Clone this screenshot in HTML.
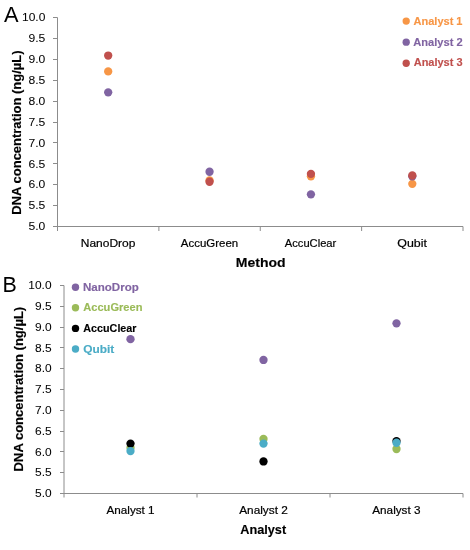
<!DOCTYPE html>
<html><head><meta charset="utf-8"><style>
html,body{margin:0;padding:0;background:#fff;width:470px;height:550px;overflow:hidden}
svg{display:block;font-family:"Liberation Sans", sans-serif;will-change:transform}
</style></head><body>
<svg width="470" height="550" viewBox="0 0 470 550">
<path d="M57.5 17.5V231.0" stroke="#8c8c8c" stroke-width="1" fill="none"/>
<path d="M53.0 17.5H57.5M53.0 38.5H57.5M53.0 59.5H57.5M53.0 80.5H57.5M53.0 101.5H57.5M53.0 122.5H57.5M53.0 142.5H57.5M53.0 163.5H57.5M53.0 184.5H57.5M53.0 205.5H57.5M53.0 226.5H57.5" stroke="#8c8c8c" stroke-width="1" fill="none"/>
<path d="M57.5 226.5H463" stroke="#8c8c8c" stroke-width="1" fill="none"/>
<path d="M158.88 226.5V231.0M260.25 226.5V231.0M361.62 226.5V231.0M463.00 226.5V231.0" stroke="#8c8c8c" stroke-width="1" fill="none"/>
<circle cx="108.19" cy="71.42" r="4.15" fill="#F79646"/>
<circle cx="209.56" cy="180.52" r="4.15" fill="#F79646"/>
<circle cx="310.94" cy="176.34" r="4.15" fill="#F79646"/>
<circle cx="412.31" cy="183.86" r="4.15" fill="#F79646"/>
<circle cx="108.19" cy="92.32" r="4.15" fill="#8064A2"/>
<circle cx="209.56" cy="171.74" r="4.15" fill="#8064A2"/>
<circle cx="310.94" cy="194.31" r="4.15" fill="#8064A2"/>
<circle cx="412.31" cy="176.34" r="4.15" fill="#8064A2"/>
<circle cx="108.19" cy="55.54" r="4.15" fill="#C0504D"/>
<circle cx="209.56" cy="181.77" r="4.15" fill="#C0504D"/>
<circle cx="310.94" cy="173.83" r="4.15" fill="#C0504D"/>
<circle cx="412.31" cy="175.50" r="4.15" fill="#C0504D"/>
<path d="M64.0 285.5V497.5" stroke="#8c8c8c" stroke-width="1" fill="none"/>
<path d="M60.0 285.5H64.0M60.0 306.5H64.0M60.0 327.5H64.0M60.0 347.5H64.0M60.0 368.5H64.0M60.0 389.5H64.0M60.0 410.5H64.0M60.0 431.5H64.0M60.0 451.5H64.0M60.0 472.5H64.0M60.0 493.5H64.0" stroke="#8c8c8c" stroke-width="1" fill="none"/>
<path d="M64.0 493.5H463.0" stroke="#8c8c8c" stroke-width="1" fill="none"/>
<path d="M197.00 493.5V497.5M330.00 493.5V497.5M463.00 493.5V497.5" stroke="#8c8c8c" stroke-width="1" fill="none"/>
<circle cx="130.50" cy="339.16" r="4.15" fill="#8064A2"/>
<circle cx="263.50" cy="359.96" r="4.15" fill="#8064A2"/>
<circle cx="396.50" cy="323.36" r="4.15" fill="#8064A2"/>
<circle cx="130.50" cy="447.74" r="4.15" fill="#9BBB59"/>
<circle cx="263.50" cy="439.00" r="4.15" fill="#9BBB59"/>
<circle cx="396.50" cy="448.99" r="4.15" fill="#9BBB59"/>
<circle cx="130.50" cy="443.58" r="4.15" fill="#000000"/>
<circle cx="263.50" cy="461.47" r="4.15" fill="#000000"/>
<circle cx="396.50" cy="441.08" r="4.15" fill="#000000"/>
<circle cx="130.50" cy="451.07" r="4.15" fill="#4BACC6"/>
<circle cx="263.50" cy="443.58" r="4.15" fill="#4BACC6"/>
<circle cx="396.50" cy="442.75" r="4.15" fill="#4BACC6"/>
<circle cx="406.2" cy="21.10" r="3.65" fill="#F79646"/>
<circle cx="406.2" cy="42.17" r="3.65" fill="#8064A2"/>
<circle cx="406.2" cy="63.24" r="3.65" fill="#C0504D"/>
<circle cx="75.5" cy="287.20" r="3.7" fill="#8064A2"/>
<circle cx="75.5" cy="307.80" r="3.7" fill="#9BBB59"/>
<circle cx="75.5" cy="328.40" r="3.7" fill="#000000"/>
<circle cx="75.5" cy="349.00" r="3.7" fill="#4BACC6"/>
<text x="22.02" y="21.2" font-size="11.6" fill="#000" stroke="#000" stroke-width="0.05" textLength="23.32" lengthAdjust="spacingAndGlyphs">10.0</text>
<text x="28.42" y="42.1" font-size="11.6" fill="#000" stroke="#000" stroke-width="0.05" textLength="16.84" lengthAdjust="spacingAndGlyphs">9.5</text>
<text x="28.42" y="63.0" font-size="11.6" fill="#000" stroke="#000" stroke-width="0.05" textLength="16.84" lengthAdjust="spacingAndGlyphs">9.0</text>
<text x="28.42" y="83.9" font-size="11.6" fill="#000" stroke="#000" stroke-width="0.05" textLength="16.84" lengthAdjust="spacingAndGlyphs">8.5</text>
<text x="28.42" y="104.8" font-size="11.6" fill="#000" stroke="#000" stroke-width="0.05" textLength="16.84" lengthAdjust="spacingAndGlyphs">8.0</text>
<text x="28.42" y="125.7" font-size="11.6" fill="#000" stroke="#000" stroke-width="0.05" textLength="16.84" lengthAdjust="spacingAndGlyphs">7.5</text>
<text x="28.42" y="146.6" font-size="11.6" fill="#000" stroke="#000" stroke-width="0.05" textLength="16.84" lengthAdjust="spacingAndGlyphs">7.0</text>
<text x="28.42" y="167.5" font-size="11.6" fill="#000" stroke="#000" stroke-width="0.05" textLength="16.84" lengthAdjust="spacingAndGlyphs">6.5</text>
<text x="28.42" y="188.4" font-size="11.6" fill="#000" stroke="#000" stroke-width="0.05" textLength="16.84" lengthAdjust="spacingAndGlyphs">6.0</text>
<text x="28.42" y="209.3" font-size="11.6" fill="#000" stroke="#000" stroke-width="0.05" textLength="16.84" lengthAdjust="spacingAndGlyphs">5.5</text>
<text x="28.42" y="230.2" font-size="11.6" fill="#000" stroke="#000" stroke-width="0.05" textLength="16.84" lengthAdjust="spacingAndGlyphs">5.0</text>
<text x="28.39" y="289.2" font-size="11.6" fill="#000" stroke="#000" stroke-width="0.05" textLength="23.18" lengthAdjust="spacingAndGlyphs">10.0</text>
<text x="35.06" y="310.0" font-size="11.6" fill="#000" stroke="#000" stroke-width="0.05" textLength="16.56" lengthAdjust="spacingAndGlyphs">9.5</text>
<text x="35.06" y="330.8" font-size="11.6" fill="#000" stroke="#000" stroke-width="0.05" textLength="16.56" lengthAdjust="spacingAndGlyphs">9.0</text>
<text x="35.06" y="351.6" font-size="11.6" fill="#000" stroke="#000" stroke-width="0.05" textLength="16.56" lengthAdjust="spacingAndGlyphs">8.5</text>
<text x="35.06" y="372.4" font-size="11.6" fill="#000" stroke="#000" stroke-width="0.05" textLength="16.56" lengthAdjust="spacingAndGlyphs">8.0</text>
<text x="35.06" y="393.2" font-size="11.6" fill="#000" stroke="#000" stroke-width="0.05" textLength="16.56" lengthAdjust="spacingAndGlyphs">7.5</text>
<text x="35.06" y="414.0" font-size="11.6" fill="#000" stroke="#000" stroke-width="0.05" textLength="16.56" lengthAdjust="spacingAndGlyphs">7.0</text>
<text x="35.06" y="434.8" font-size="11.6" fill="#000" stroke="#000" stroke-width="0.05" textLength="16.56" lengthAdjust="spacingAndGlyphs">6.5</text>
<text x="35.06" y="455.6" font-size="11.6" fill="#000" stroke="#000" stroke-width="0.05" textLength="16.56" lengthAdjust="spacingAndGlyphs">6.0</text>
<text x="35.06" y="476.4" font-size="11.6" fill="#000" stroke="#000" stroke-width="0.05" textLength="16.56" lengthAdjust="spacingAndGlyphs">5.5</text>
<text x="35.06" y="497.2" font-size="11.6" fill="#000" stroke="#000" stroke-width="0.05" textLength="16.56" lengthAdjust="spacingAndGlyphs">5.0</text>
<text x="80.80" y="247.1" font-size="11.3" fill="#000" stroke="#000" stroke-width="0.2" textLength="54.66" lengthAdjust="spacingAndGlyphs">NanoDrop</text>
<text x="180.79" y="247.1" font-size="11.3" fill="#000" stroke="#000" stroke-width="0.2" textLength="57.39" lengthAdjust="spacingAndGlyphs">AccuGreen</text>
<text x="284.78" y="247.1" font-size="11.3" fill="#000" stroke="#000" stroke-width="0.2" textLength="51.53" lengthAdjust="spacingAndGlyphs">AccuClear</text>
<text x="397.29" y="247.1" font-size="11.3" fill="#000" stroke="#000" stroke-width="0.2" textLength="29.65" lengthAdjust="spacingAndGlyphs">Qubit</text>
<text x="106.53" y="514.4" font-size="11.3" fill="#000" stroke="#000" stroke-width="0.2" textLength="48.05" lengthAdjust="spacingAndGlyphs">Analyst 1</text>
<text x="239.19" y="514.4" font-size="11.3" fill="#000" stroke="#000" stroke-width="0.2" textLength="48.67" lengthAdjust="spacingAndGlyphs">Analyst 2</text>
<text x="372.28" y="514.4" font-size="11.3" fill="#000" stroke="#000" stroke-width="0.2" textLength="48.24" lengthAdjust="spacingAndGlyphs">Analyst 3</text>
<text x="235.82" y="267.4" font-size="13.0" font-weight="bold" fill="#000" stroke="#000" stroke-width="0.15" textLength="49.77" lengthAdjust="spacingAndGlyphs">Method</text>
<text x="240.28" y="534.4" font-size="13.0" font-weight="bold" fill="#000" stroke="#000" stroke-width="0.15" textLength="45.87" lengthAdjust="spacingAndGlyphs">Analyst</text>
<text x="413.56" y="25.0" font-size="11.5" font-weight="bold" fill="#F79646" stroke="#F79646" stroke-width="0.15" textLength="48.93" lengthAdjust="spacingAndGlyphs">Analyst 1</text>
<text x="413.30" y="46.0" font-size="11.5" font-weight="bold" fill="#8064A2" stroke="#8064A2" stroke-width="0.15" textLength="49.41" lengthAdjust="spacingAndGlyphs">Analyst 2</text>
<text x="413.71" y="66.0" font-size="11.5" font-weight="bold" fill="#C0504D" stroke="#C0504D" stroke-width="0.15" textLength="48.86" lengthAdjust="spacingAndGlyphs">Analyst 3</text>
<text x="82.94" y="290.8" font-size="11.5" font-weight="bold" fill="#8064A2" stroke="#8064A2" stroke-width="0.15" textLength="55.84" lengthAdjust="spacingAndGlyphs">NanoDrop</text>
<text x="83.29" y="311.4" font-size="11.5" font-weight="bold" fill="#9BBB59" stroke="#9BBB59" stroke-width="0.15" textLength="59.16" lengthAdjust="spacingAndGlyphs">AccuGreen</text>
<text x="83.36" y="332.0" font-size="11.5" font-weight="bold" fill="#000000" stroke="#000000" stroke-width="0.15" textLength="53.13" lengthAdjust="spacingAndGlyphs">AccuClear</text>
<text x="83.27" y="352.6" font-size="11.5" font-weight="bold" fill="#4BACC6" stroke="#4BACC6" stroke-width="0.15" textLength="31.06" lengthAdjust="spacingAndGlyphs">Qubit</text>
<text x="3.96" y="21.8" font-size="22" fill="#000" textLength="14.54" lengthAdjust="spacingAndGlyphs">A</text>
<text x="2.57" y="291.9" font-size="22" fill="#000" textLength="14.30" lengthAdjust="spacingAndGlyphs">B</text>
<text transform="translate(20.8,132.6) rotate(-90)" font-size="13.3" font-weight="bold" stroke="#000" stroke-width="0.15" text-anchor="middle" textLength="164.2" lengthAdjust="spacingAndGlyphs">DNA concentration (ng/µL)</text>
<text transform="translate(22.7,389.1) rotate(-90)" font-size="13.3" font-weight="bold" stroke="#000" stroke-width="0.15" text-anchor="middle" textLength="164.6" lengthAdjust="spacingAndGlyphs">DNA concentration (ng/µL)</text>
</svg>
</body></html>
